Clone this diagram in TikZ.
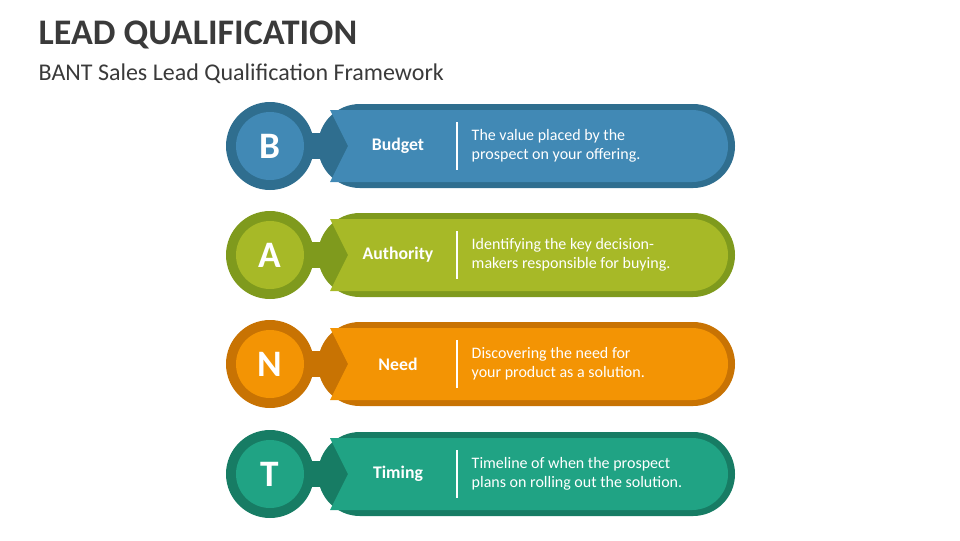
\documentclass[tikz,border=0pt]{standalone}
\usepackage{fontspec}
\setmainfont{Carlito}
\definecolor{bD}{HTML}{2F6E8F}\definecolor{bL}{HTML}{4189B5}
\definecolor{aD}{HTML}{7F9A1D}\definecolor{aL}{HTML}{A7B927}
\definecolor{nD}{HTML}{C87303}\definecolor{nL}{HTML}{F39404}
\definecolor{tD}{HTML}{177C64}\definecolor{tL}{HTML}{20A384}
\definecolor{ink}{HTML}{3A3A3A}
\tikzset{
 letter/.style={text=white,font=\fontsize{28}{30}\selectfont\bfseries},
 lbl/.style={text=white,font=\fontsize{13.3}{15}\selectfont\bfseries},
 desc/.style={text=white,font=\fontsize{12}{14.5}\selectfont,align=left,anchor=west},
}
\newcommand{\bantrow}[7]{%
 \fill[#2,rounded corners=31.4pt] (318,{#1-42}) rectangle (735,{#1+42});
 \fill[#2] (300,{#1-13}) rectangle (335,{#1+13});
 \fill[#2] (270,#1) circle[radius=44];
 \fill[#3] (270,#1) circle[radius=34];
 \fill[#3] (330,{#1-36}) [rounded corners=26.9pt] -- (728,{#1-36}) -- (728,{#1+36}) [sharp corners] -- (330,{#1+36}) -- (348,#1) -- cycle;
 \node[letter] (#7l) at (270,#1) {#4};
 \node[lbl] (#7n) at (398,#1) {#5};
 \draw[white,line width=1.5] (457,{#1-24}) -- (457,{#1+24});
 \node[desc] (#7d) at (467,#1) {#6};
}
\begin{document}
\begin{tikzpicture}[x=0.75pt,y=-0.75pt]
\useasboundingbox (0,0) rectangle (960,540);
\node[anchor=west,text=ink,font=\fontsize{27}{30}\selectfont\bfseries] (title) at (34,35) {LEAD QUALIFICATION};
\node[anchor=west,text=ink,font=\fontsize{18}{21}\selectfont] (sub) at (34,74) {BANT Sales Lead Qualification Framework};
\bantrow{146}{bD}{bL}{B}{Budget}{The value placed by the\\prospect on your offering.}{b}
\bantrow{255}{aD}{aL}{A}{Authority}{Identifying the key decision-\\makers responsible for buying.}{a}
\bantrow{364}{nD}{nL}{N}{Need}{Discovering the need for\\your product as a solution.}{n}
\bantrow{474}{tD}{tL}{T}{Timing}{Timeline of when the prospect\\plans on rolling out the solution.}{t}
\end{tikzpicture}
\end{document}
